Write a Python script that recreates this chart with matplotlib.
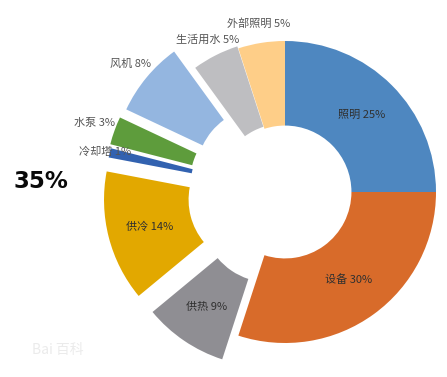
import matplotlib
matplotlib.use("Agg")
import matplotlib.pyplot as plt
import numpy as np

plt.rcParams['font.family'] = ['Noto Sans CJK SC', 'DejaVu Sans']

# Data
categories = ['照明', '设备', '供热', '供冷', '冷却塔', '水泵', '风机', '生活用水', '外部照明']
values = [25, 30, 9, 14, 1, 3, 8, 5, 5]
highlight_text = '35%'

# Styles
colors = ['#4E87C0', '#D86B2A', '#8F8E93', '#E2A800', '#3262B0',
          '#5E9C3C', '#94B6E0', '#BEBEC1', '#FECE88']
explode = [0, 0, 0.19, 0.205, 0.19, 0.2, 0.19, 0.015, 0]
label_dist = [0.72, 0.72, 0.73, 0.72, 1.03, 1.14, 1.14, 1.12, 1.13]
label_color = ['#303030', '#303030', '#303030', '#303030', '#555555',
               '#555555', '#555555', '#555555', '#555555']

W, H = 447, 377
CX, CY, R = 285, 192, 151

fig = plt.figure(figsize=(W / 100, H / 100), dpi=100)
ax = fig.add_axes([0, 0, 1, 1])
ax.axis('off')

wedges, _ = ax.pie(values, colors=colors, explode=explode, startangle=90,
                   counterclock=False, radius=1.0, center=(0, 0),
                   wedgeprops=dict(width=0.56, linewidth=0))
ax.set_xlim((0 - CX) / R, (W - CX) / R)
ax.set_ylim((CY - H) / R, CY / R)
ax.set_aspect('auto')

for w, cat, v, d, c in zip(wedges, categories, values, label_dist, label_color):
    th = np.deg2rad((w.theta1 + w.theta2) / 2)
    cx, cy = w.center
    x = cx + d * np.cos(th)
    y = cy + d * np.sin(th)
    ax.text(x, y, f'{cat} {v}%', ha='center', va='center', fontsize=8, color=c)

def px(x, y):
    return ((x - CX) / R, (CY - y) / R)

ax.text(*px(41, 182), highlight_text, ha='center', va='center', fontsize=16.5,
        fontweight='bold', color='#0a0a0a', family=['DejaVu Sans'])
ax.text(*px(58, 350), 'Bai 百科', ha='center', va='center', fontsize=10,
        color='#ebebeb')

fig.savefig('out.png', dpi=100, facecolor='white')
